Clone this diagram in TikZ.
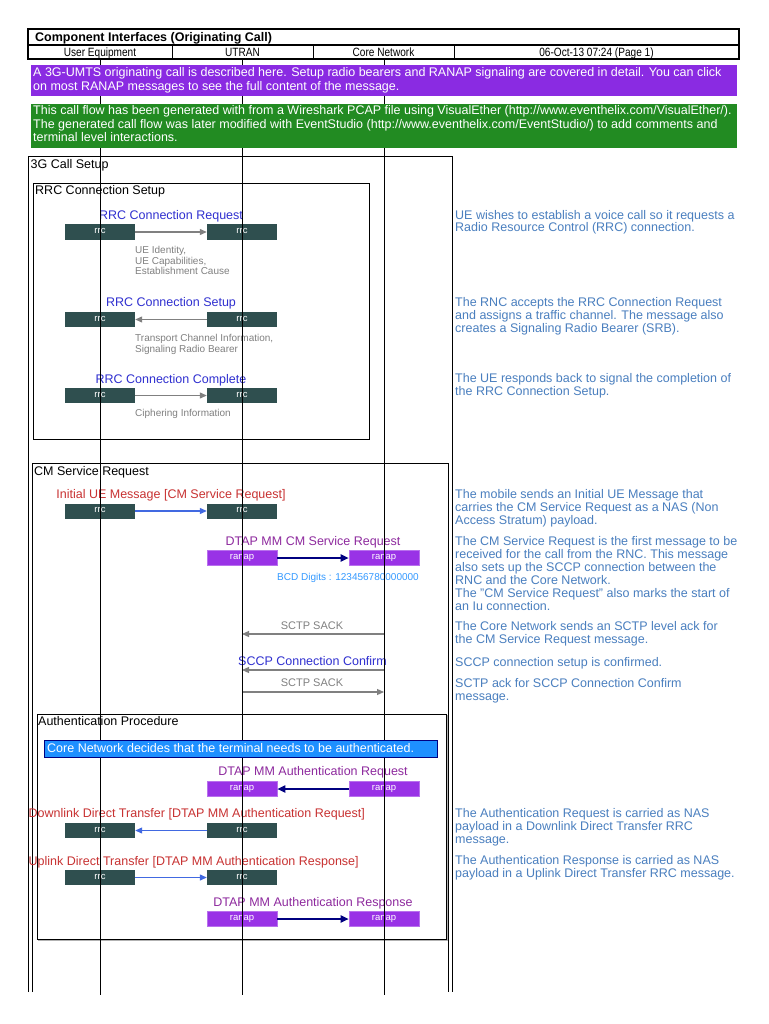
\documentclass[tikz,border=0pt]{standalone}
\usepackage{fontspec}
\setmainfont{Liberation Sans}
\newfontfamily\narrowfont[FakeStretch=0.84]{Liberation Sans}
\usetikzlibrary{arrows.meta}
\definecolor{rrcfill}{HTML}{2F4F4F}
\definecolor{ranapfill}{HTML}{9932E6}
\definecolor{bannerpurple}{HTML}{8A2BE2}
\definecolor{bannergreen}{HTML}{228B22}
\definecolor{bannerblue}{HTML}{1E90FF}
\definecolor{lblblue}{HTML}{3030D0}
\definecolor{lblred}{HTML}{C83232}
\definecolor{lblpurple}{HTML}{8E2A9E}
\definecolor{bcdblue}{HTML}{3399FF}
\definecolor{cmtblue}{HTML}{4A7FBF}
\definecolor{msggray}{HTML}{808080}
\definecolor{arrnavy}{HTML}{000080}
\definecolor{arrblue}{HTML}{4169E1}
\begin{document}
\begin{tikzpicture}[x=1pt,y=-1pt,
  lbl/.style={font=\fontsize{12.5}{13}\selectfont, inner sep=0, anchor=base},
  ttl/.style={font=\fontsize{12.5}{13}\selectfont, inner sep=0, anchor=base west},
  cmt/.style={font=\fontsize{12.5}{13}\selectfont, text=cmtblue, inner sep=0, anchor=base west, align=left},
  smalltxt/.style={font=\fontsize{10}{10.5}\selectfont, text=msggray, inner sep=0, anchor=base west, align=left},
  bannertxt/.style={font=\fontsize{12.5}{13.3}\selectfont, text=white, inner sep=0, anchor=base west, align=left},
  hdr/.style={font=\narrowfont\fontsize{12}{12}\selectfont, inner sep=0, anchor=base},
  rrcbox/.style={fill=rrcfill, minimum width=70pt, minimum height=15pt, inner sep=0, text=white, font=\fontsize{9.5}{10}\selectfont},
  ranapbox/.style={fill=ranapfill, draw=ranapfill!70!white, line width=0.6pt, minimum width=70pt, minimum height=15pt, inner sep=0, text=white, font=\fontsize{9.5}{10}\selectfont},
  grayarr/.style={draw=msggray, line width=1.2pt, -{Triangle[length=7pt,width=6pt]}},
  bluearr/.style={draw=arrblue, line width=1.2pt, -{Triangle[length=7pt,width=6pt]}},
  navyarr/.style={draw=arrnavy, line width=1.8pt, -{Triangle[length=8pt,width=7pt]}},
  frame/.style={draw=black, line width=1pt},
  life/.style={draw=black, line width=1pt},
]
\useasboundingbox[fill=white] (0,0) rectangle (768,1024);

% ---------- header ----------
\draw[line width=1.4pt] (28,29) rectangle (739,59);
\draw[line width=1.2pt] (28,45) -- (739,45);
\foreach \xx in {172,313,454} \draw[line width=1pt] (\xx,45) -- (\xx,59);
\node[ttl, font=\bfseries\fontsize{12.5}{13}\selectfont] (title) at (35,41.5) {Component Interfaces (Originating Call)};
\node[hdr] (hUE) at (100,56.3) {User Equipment};
\node[hdr] (hUT) at (242.5,56.3) {UTRAN};
\node[hdr] (hCN) at (383.5,56.3) {Core Network};
\node[hdr] (hDT) at (596.5,56.3) {06-Oct-13 07:24 (Page 1)};

% ---------- frames ----------
\draw[frame] (28,992) -- (28,157) -- (452,157) -- (452,992);
\node[ttl] (t3g) at (30.5,169) {3G Call Setup};
\draw[frame] (33,184) rectangle (369,439);
\node[ttl] (trrc) at (35,195) {RRC Connection Setup};
\draw[frame] (32.5,992) -- (32.5,463) -- (448.5,463) -- (448.5,992);
\node[ttl] (tcm) at (34,475) {CM Service Request};
\draw[gray!60, line width=1pt] (38,940.5) -- (447.5,940.5) -- (447.5,715);
\draw[frame] (37,714) rectangle (446,939);
\node[ttl] (tauth) at (38,725) {Authentication Procedure};

% ---------- RRC Connection Request ----------
\node[lbl, text=lblblue] (lA) at (171,219) {RRC Connection Request};
\node[rrcbox] (a1) at (100,232) {\raisebox{2pt}{rrc}};
\node[rrcbox] (a2) at (242,232) {\raisebox{2pt}{rrc}};
\draw[grayarr] (a1.east) -- (a2.west);
\node[smalltxt] (sA) at (135,274.5) {UE Identity,\\UE Capabilities,\\Establishment Cause};

% ---------- RRC Connection Setup ----------
\node[lbl, text=lblblue] (lB) at (171,306) {RRC Connection Setup};
\node[rrcbox] (b1) at (100,319.5) {\raisebox{2pt}{rrc}};
\node[rrcbox] (b2) at (242,319.5) {\raisebox{2pt}{rrc}};
\draw[grayarr] (b2.west) -- (b1.east);
\node[smalltxt] (sB) at (135,352) {Transport Channel Information,\\Signaling Radio Bearer};

% ---------- RRC Connection Complete ----------
\node[lbl, text=lblblue] (lC) at (171,383) {RRC Connection Complete};
\node[rrcbox] (c1) at (100,395.5) {\raisebox{2pt}{rrc}};
\node[rrcbox] (c2) at (242,395.5) {\raisebox{2pt}{rrc}};
\draw[grayarr] (c1.east) -- (c2.west);
\node[smalltxt] (sC) at (135,416.5) {Ciphering Information};

% ---------- Initial UE Message ----------
\node[lbl, text=lblred] (lD) at (171,498) {Initial UE Message [CM Service Request]};
\node[rrcbox] (d1) at (100,511) {\raisebox{2pt}{rrc}};
\node[rrcbox] (d2) at (242,511) {\raisebox{2pt}{rrc}};
\draw[bluearr] (d1.east) -- (d2.west);

% ---------- DTAP MM CM Service Request ----------
\node[lbl, text=lblpurple] (lE) at (313,545) {DTAP MM CM Service Request};
\node[ranapbox] (e1) at (242,558) {\raisebox{2pt}{ranap}};
\node[ranapbox] (e2) at (384,558) {\raisebox{2pt}{ranap}};
\draw[navyarr] (e1.east) -- (e2.west);
\node[smalltxt, text=bcdblue] (sE) at (277,580.5) {BCD Digits : 123456780000000};

% ---------- SCTP SACK / SCCP ----------
\node[lbl, text=msggray, font=\fontsize{11}{12}\selectfont] (lF) at (312,629.5) {SCTP SACK};
\coordinate (f1) at (384,634);
\coordinate (f2) at (242,634);
\draw[grayarr] (f1) -- (f2);
\node[lbl, text=lblblue] (lG) at (312.5,665) {SCCP Connection Confirm};
\coordinate (g1) at (384,670);
\coordinate (g2) at (242,670);
\draw[grayarr] (g1) -- (g2);
\node[lbl, text=msggray, font=\fontsize{11}{12}\selectfont] (lH) at (312,686.5) {SCTP SACK};
\coordinate (h1) at (242,692);
\coordinate (h2) at (384,692);
\draw[grayarr] (h1) -- (h2);

% ---------- Authentication ----------
\node[lbl, text=lblpurple] (lI) at (313,775) {DTAP MM Authentication Request};
\node[ranapbox] (i1) at (242,789) {\raisebox{2pt}{ranap}};
\node[ranapbox] (i2) at (384,789) {\raisebox{2pt}{ranap}};
\draw[navyarr] (i2.west) -- (i1.east);

\node[lbl, text=lblred, anchor=base west] (lJ) at (28.5,817) {Downlink Direct Transfer [DTAP MM Authentication Request]};
\node[rrcbox] (j1) at (100,830.5) {\raisebox{2pt}{rrc}};
\node[rrcbox] (j2) at (242,830.5) {\raisebox{2pt}{rrc}};
\draw[bluearr] (j2.west) -- (j1.east);

\node[lbl, text=lblred, anchor=base west] (lK) at (28.5,865) {Uplink Direct Transfer [DTAP MM Authentication Response]};
\node[rrcbox] (k1) at (100,877.5) {\raisebox{2pt}{rrc}};
\node[rrcbox] (k2) at (242,877.5) {\raisebox{2pt}{rrc}};
\draw[bluearr] (k1.east) -- (k2.west);

\node[lbl, text=lblpurple] (lL) at (313,906) {DTAP MM Authentication Response};
\node[ranapbox] (l1) at (242,919) {\raisebox{2pt}{ranap}};
\node[ranapbox] (l2) at (384,919) {\raisebox{2pt}{ranap}};
\draw[navyarr] (l1.east) -- (l2.west);

% ---------- lifelines ----------
\coordinate (ueTop) at (100,59);  \coordinate (ueBot) at (100,995);
\coordinate (utTop) at (242,59);  \coordinate (utBot) at (242,995);
\coordinate (cnTop) at (384,59);  \coordinate (cnBot) at (384,995);
\draw[life] (ueTop) -- (ueBot);
\draw[life] (utTop) -- (utBot);
\draw[life] (cnTop) -- (cnBot);

% ---------- banners ----------
\node[fill=bannerpurple, minimum width=706pt, minimum height=31pt, inner sep=0, anchor=north west] (bp) at (31,65) {};
\node[bannertxt] (bpt) at (33,90.3) {A 3G-UMTS originating call is described here. Setup radio bearers and RANAP signaling are covered in detail. You can click\\on most RANAP messages to see the full content of the message.};
\node[fill=bannergreen, minimum width=706pt, minimum height=44pt, inner sep=0, anchor=north west] (bg) at (31,104) {};
\node[bannertxt] (bgt) at (33,141.6) {This call flow has been generated with from a Wireshark PCAP file using VisualEther (http://www.eventhelix.com/VisualEther/).\\The generated call flow was later modified with EventStudio (http://www.eventhelix.com/EventStudio/) to add comments and\\terminal level interactions.};
\node[fill=bannerblue, draw=arrnavy, line width=1pt, minimum width=393pt, minimum height=17pt, inner sep=0, anchor=north west] (bb) at (44,740) {};
\node[bannertxt] (bbt) at (47,752.5) {Core Network decides that the terminal needs to be authenticated.};

% ---------- comments (anchor = baseline of last line) ----------
\node[cmt] (m1) at (455,232) {UE wishes to establish a voice call so it requests a\\Radio Resource Control (RRC) connection.};
\node[cmt] (m2) at (455,332) {The RNC accepts the RRC Connection Request\\and assigns a traffic channel. The message also\\creates a Signaling Radio Bearer (SRB).};
\node[cmt] (m3) at (455,395) {The UE responds back to signal the completion of\\the RRC Connection Setup.};
\node[cmt] (m4) at (455,524) {The mobile sends an Initial UE Message that\\carries the CM Service Request as a NAS (Non\\Access Stratum) payload.};
\node[cmt] (m5) at (455,610) {The CM Service Request is the first message to be\\received for the call from the RNC. This message\\also sets up the SCCP connection between the\\RNC and the Core Network.\\The "CM Service Request" also marks the start of\\an Iu connection.};
\node[cmt] (m6) at (455,643) {The Core Network sends an SCTP level ack for\\the CM Service Request message.};
\node[cmt] (m7) at (455,666) {SCCP connection setup is confirmed.};
\node[cmt] (m8) at (455,700) {SCTP ack for SCCP Connection Confirm\\message.};
\node[cmt] (m9) at (455,843) {The Authentication Request is carried as NAS\\payload in a Downlink Direct Transfer RRC\\message.};
\node[cmt] (m10) at (455,877) {The Authentication Response is carried as NAS\\payload in a Uplink Direct Transfer RRC message.};
\end{tikzpicture}
\end{document}
